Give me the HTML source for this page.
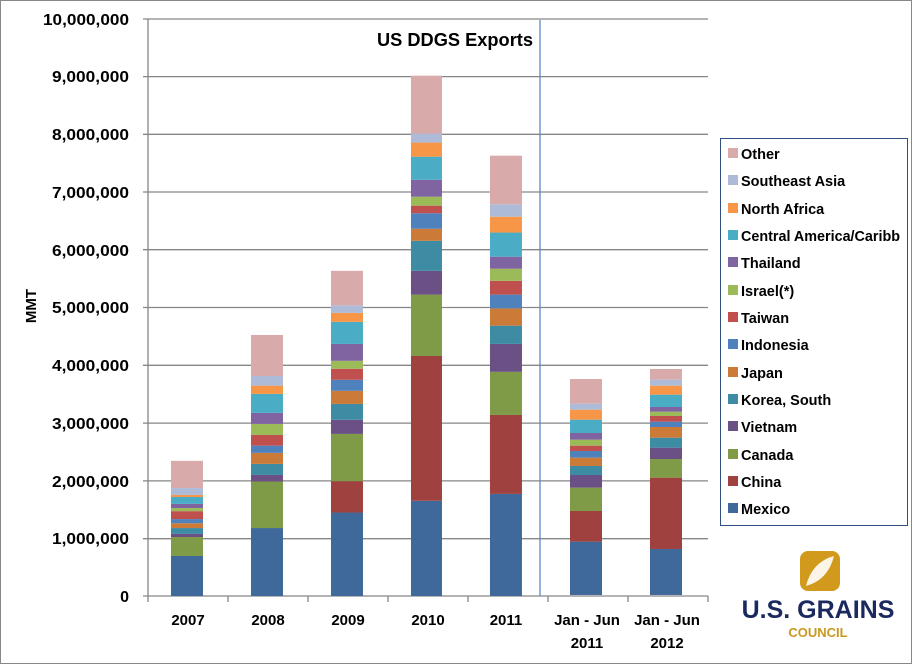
<!DOCTYPE html>
<html><head><style>
body{margin:0;background:#fff;}
svg text{font-family:"Liberation Sans",sans-serif;font-weight:bold;}
</style></head><body>
<svg width="912" height="664" viewBox="0 0 912 664" xmlns="http://www.w3.org/2000/svg">
<rect x="0.5" y="0.5" width="911" height="663" fill="#fff" stroke="#888"/>
<g stroke="#868686" stroke-width="1.3">
<line x1="143" y1="19" x2="708" y2="19"/>
<line x1="143" y1="76.6" x2="708" y2="76.6"/>
<line x1="143" y1="134.3" x2="708" y2="134.3"/>
<line x1="143" y1="192" x2="708" y2="192"/>
<line x1="143" y1="249.7" x2="708" y2="249.7"/>
<line x1="143" y1="307.5" x2="708" y2="307.5"/>
<line x1="143" y1="365.3" x2="708" y2="365.3"/>
<line x1="143" y1="423.1" x2="708" y2="423.1"/>
<line x1="143" y1="480.9" x2="708" y2="480.9"/>
<line x1="143" y1="538.7" x2="708" y2="538.7"/>
<line x1="143" y1="596" x2="708" y2="596"/>
<line x1="148" y1="19" x2="148" y2="602"/>
<line x1="228" y1="596" x2="228" y2="602"/>
<line x1="308" y1="596" x2="308" y2="602"/>
<line x1="388" y1="596" x2="388" y2="602"/>
<line x1="468" y1="596" x2="468" y2="602"/>
<line x1="548" y1="596" x2="548" y2="602"/>
<line x1="628" y1="596" x2="628" y2="602"/>
<line x1="708" y1="596" x2="708" y2="602"/>
</g>
<g transform="translate(140,60.5) scale(0.3333,0.3448)">
<g>
<rect x="93" width="96" y="1437" height="116" fill="#3f689b"/>
<rect x="93" width="96" y="1382" height="55" fill="#809b48"/>
<rect x="93" width="96" y="1373" height="9" fill="#6a5084"/>
<rect x="93" width="96" y="1356" height="17" fill="#3d8ca3"/>
<rect x="93" width="96" y="1342" height="14" fill="#cc7a38"/>
<rect x="93" width="96" y="1330" height="12" fill="#4f81bd"/>
<rect x="93" width="96" y="1307" height="23" fill="#c0504d"/>
<rect x="93" width="96" y="1298" height="9" fill="#9bbb59"/>
<rect x="93" width="96" y="1286" height="12" fill="#8064a2"/>
<rect x="93" width="96" y="1266" height="20" fill="#4bacc6"/>
<rect x="93" width="96" y="1260" height="6" fill="#f79646"/>
<rect x="93" width="96" y="1240" height="20" fill="#aebbd8"/>
<rect x="93" width="96" y="1161" height="79" fill="#d9aaaa"/>
</g>
<g>
<rect x="333" width="96" y="1356" height="197" fill="#3f689b"/>
<rect x="333" width="96" y="1221" height="135" fill="#809b48"/>
<rect x="333" width="96" y="1202" height="19" fill="#6a5084"/>
<rect x="333" width="96" y="1170" height="32" fill="#3d8ca3"/>
<rect x="333" width="96" y="1138" height="32" fill="#cc7a38"/>
<rect x="333" width="96" y="1117" height="21" fill="#4f81bd"/>
<rect x="333" width="96" y="1086" height="31" fill="#c0504d"/>
<rect x="333" width="96" y="1054" height="32" fill="#9bbb59"/>
<rect x="333" width="96" y="1022" height="32" fill="#8064a2"/>
<rect x="333" width="96" y="967" height="55" fill="#4bacc6"/>
<rect x="333" width="96" y="943" height="24" fill="#f79646"/>
<rect x="333" width="96" y="915" height="28" fill="#aebbd8"/>
<rect x="333" width="96" y="796" height="119" fill="#d9aaaa"/>
</g>
<g>
<rect x="573" width="96" y="1311" height="242" fill="#3f689b"/>
<rect x="573" width="96" y="1220" height="91" fill="#9e413f"/>
<rect x="573" width="96" y="1083" height="137" fill="#809b48"/>
<rect x="573" width="96" y="1042" height="41" fill="#6a5084"/>
<rect x="573" width="96" y="996" height="46" fill="#3d8ca3"/>
<rect x="573" width="96" y="958" height="38" fill="#cc7a38"/>
<rect x="573" width="96" y="926" height="32" fill="#4f81bd"/>
<rect x="573" width="96" y="894" height="32" fill="#c0504d"/>
<rect x="573" width="96" y="871" height="23" fill="#9bbb59"/>
<rect x="573" width="96" y="822" height="49" fill="#8064a2"/>
<rect x="573" width="96" y="758" height="64" fill="#4bacc6"/>
<rect x="573" width="96" y="732" height="26" fill="#f79646"/>
<rect x="573" width="96" y="710" height="22" fill="#aebbd8"/>
<rect x="573" width="96" y="610" height="100" fill="#d9aaaa"/>
</g>
<g>
<rect x="813" width="93" y="1277" height="276" fill="#3f689b"/>
<rect x="813" width="93" y="857" height="420" fill="#9e413f"/>
<rect x="813" width="93" y="679" height="178" fill="#809b48"/>
<rect x="813" width="93" y="610" height="69" fill="#6a5084"/>
<rect x="813" width="93" y="523" height="87" fill="#3d8ca3"/>
<rect x="813" width="93" y="488" height="35" fill="#cc7a38"/>
<rect x="813" width="93" y="443" height="45" fill="#4f81bd"/>
<rect x="813" width="93" y="421" height="22" fill="#c0504d"/>
<rect x="813" width="93" y="395" height="26" fill="#9bbb59"/>
<rect x="813" width="93" y="346" height="49" fill="#8064a2"/>
<rect x="813" width="93" y="279" height="67" fill="#4bacc6"/>
<rect x="813" width="93" y="238" height="41" fill="#f79646"/>
<rect x="813" width="93" y="212" height="26" fill="#aebbd8"/>
<rect x="813" width="93" y="44" height="168" fill="#d9aaaa"/>
</g>
<g>
<rect x="1050" width="96" y="1257" height="296" fill="#3f689b"/>
<rect x="1050" width="96" y="1028" height="229" fill="#9e413f"/>
<rect x="1050" width="96" y="903" height="125" fill="#809b48"/>
<rect x="1050" width="96" y="822" height="81" fill="#6a5084"/>
<rect x="1050" width="96" y="769" height="53" fill="#3d8ca3"/>
<rect x="1050" width="96" y="719" height="50" fill="#cc7a38"/>
<rect x="1050" width="96" y="679" height="40" fill="#4f81bd"/>
<rect x="1050" width="96" y="639" height="40" fill="#c0504d"/>
<rect x="1050" width="96" y="604" height="35" fill="#9bbb59"/>
<rect x="1050" width="96" y="569" height="35" fill="#8064a2"/>
<rect x="1050" width="96" y="499" height="70" fill="#4bacc6"/>
<rect x="1050" width="96" y="453" height="46" fill="#f79646"/>
<rect x="1050" width="96" y="417" height="36" fill="#aebbd8"/>
<rect x="1050" width="96" y="276" height="141" fill="#d9aaaa"/>
</g>
</g>
<g transform="translate(540,360) scale(0.3333)">
<g>
<rect x="90" width="96" y="545" height="160" fill="#3f689b"/>
<rect x="90" width="96" y="453" height="92" fill="#9e413f"/>
<rect x="90" width="96" y="383" height="70" fill="#809b48"/>
<rect x="90" width="96" y="345" height="38" fill="#6a5084"/>
<rect x="90" width="96" y="318" height="27" fill="#3d8ca3"/>
<rect x="90" width="96" y="293" height="25" fill="#cc7a38"/>
<rect x="90" width="96" y="273" height="20" fill="#4f81bd"/>
<rect x="90" width="96" y="257" height="16" fill="#c0504d"/>
<rect x="90" width="96" y="239" height="18" fill="#9bbb59"/>
<rect x="90" width="96" y="219" height="20" fill="#8064a2"/>
<rect x="90" width="96" y="179" height="40" fill="#4bacc6"/>
<rect x="90" width="96" y="149" height="30" fill="#f79646"/>
<rect x="90" width="96" y="131" height="18" fill="#aebbd8"/>
<rect x="90" width="96" y="57" height="74" fill="#d9aaaa"/>
</g>
<g>
<rect x="330" width="96" y="567" height="138" fill="#3f689b"/>
<rect x="330" width="96" y="353" height="214" fill="#9e413f"/>
<rect x="330" width="96" y="297" height="56" fill="#809b48"/>
<rect x="330" width="96" y="263" height="34" fill="#6a5084"/>
<rect x="330" width="96" y="233" height="30" fill="#3d8ca3"/>
<rect x="330" width="96" y="201" height="32" fill="#cc7a38"/>
<rect x="330" width="96" y="185" height="16" fill="#4f81bd"/>
<rect x="330" width="96" y="168" height="17" fill="#c0504d"/>
<rect x="330" width="96" y="155" height="13" fill="#9bbb59"/>
<rect x="330" width="96" y="141" height="14" fill="#8064a2"/>
<rect x="330" width="96" y="104" height="37" fill="#4bacc6"/>
<rect x="330" width="96" y="77" height="27" fill="#f79646"/>
<rect x="330" width="96" y="59" height="18" fill="#aebbd8"/>
<rect x="330" width="96" y="27" height="32" fill="#d9aaaa"/>
</g>
</g>
<line x1="540" y1="20" x2="540" y2="596" stroke="#5b87c5" stroke-width="1.3"/>
<g font-size="16" fill="#000" text-anchor="end">
<text x="129" y="25" textLength="86" lengthAdjust="spacingAndGlyphs">10,000,000</text>
<text x="129" y="82" textLength="77" lengthAdjust="spacingAndGlyphs">9,000,000</text>
<text x="129" y="140" textLength="77" lengthAdjust="spacingAndGlyphs">8,000,000</text>
<text x="129" y="198" textLength="77" lengthAdjust="spacingAndGlyphs">7,000,000</text>
<text x="129" y="256" textLength="77" lengthAdjust="spacingAndGlyphs">6,000,000</text>
<text x="129" y="313" textLength="77" lengthAdjust="spacingAndGlyphs">5,000,000</text>
<text x="129" y="371" textLength="77" lengthAdjust="spacingAndGlyphs">4,000,000</text>
<text x="129" y="429" textLength="77" lengthAdjust="spacingAndGlyphs">3,000,000</text>
<text x="129" y="487" textLength="77" lengthAdjust="spacingAndGlyphs">2,000,000</text>
<text x="129" y="544" textLength="77" lengthAdjust="spacingAndGlyphs">1,000,000</text>
<text x="129" y="602">0</text>
</g>
<text transform="translate(36,306) rotate(-90)" font-size="15" text-anchor="middle">MMT</text>
<text x="455" y="46" font-size="18" text-anchor="middle" textLength="156" lengthAdjust="spacingAndGlyphs">US DDGS Exports</text>
<g font-size="15" text-anchor="middle">
<text x="188" y="625">2007</text>
<text x="268" y="625">2008</text>
<text x="348" y="625">2009</text>
<text x="428" y="625">2010</text>
<text x="506" y="625">2011</text>
<text x="587" y="625">Jan - Jun</text>
<text x="587" y="648">2011</text>
<text x="667" y="625">Jan - Jun</text>
<text x="667" y="648">2012</text>
</g>
<rect x="720.5" y="138.5" width="187" height="387" fill="#fff" stroke="#2f4f7f"/>
<g font-size="14.5">
<rect x="728" y="148" width="10" height="10" fill="#d9aaaa"/><text x="741" y="159">Other</text>
<rect x="728" y="175" width="10" height="10" fill="#aebbd8"/><text x="741" y="186">Southeast Asia</text>
<rect x="728" y="203" width="10" height="10" fill="#f79646"/><text x="741" y="214">North Africa</text>
<rect x="728" y="230" width="10" height="10" fill="#4bacc6"/><text x="741" y="241" textLength="159" lengthAdjust="spacingAndGlyphs">Central America/Caribb</text>
<rect x="728" y="257" width="10" height="10" fill="#8064a2"/><text x="741" y="268">Thailand</text>
<rect x="728" y="285" width="10" height="10" fill="#9bbb59"/><text x="741" y="296">Israel(*)</text>
<rect x="728" y="312" width="10" height="10" fill="#c0504d"/><text x="741" y="323">Taiwan</text>
<rect x="728" y="339" width="10" height="10" fill="#4f81bd"/><text x="741" y="350">Indonesia</text>
<rect x="728" y="367" width="10" height="10" fill="#cc7a38"/><text x="741" y="378">Japan</text>
<rect x="728" y="394" width="10" height="10" fill="#3d8ca3"/><text x="741" y="405">Korea, South</text>
<rect x="728" y="421" width="10" height="10" fill="#6a5084"/><text x="741" y="432">Vietnam</text>
<rect x="728" y="449" width="10" height="10" fill="#809b48"/><text x="741" y="460">Canada</text>
<rect x="728" y="476" width="10" height="10" fill="#9e413f"/><text x="741" y="487">China</text>
<rect x="728" y="503" width="10" height="10" fill="#3f689b"/><text x="741" y="514">Mexico</text>
</g>
<rect x="800" y="551" width="40" height="40" rx="8" fill="#d19a1c"/>
<path d="M806 586 Q812 562 834 556 Q828 580 806 586Z" fill="#fff" opacity="0.9"/>
<text x="818" y="618" font-size="25" fill="#1b2a5e" text-anchor="middle">U.S. GRAINS</text>
<text x="818" y="637" font-size="13" fill="#c9981f" text-anchor="middle">COUNCIL</text>
</svg>
</body></html>
